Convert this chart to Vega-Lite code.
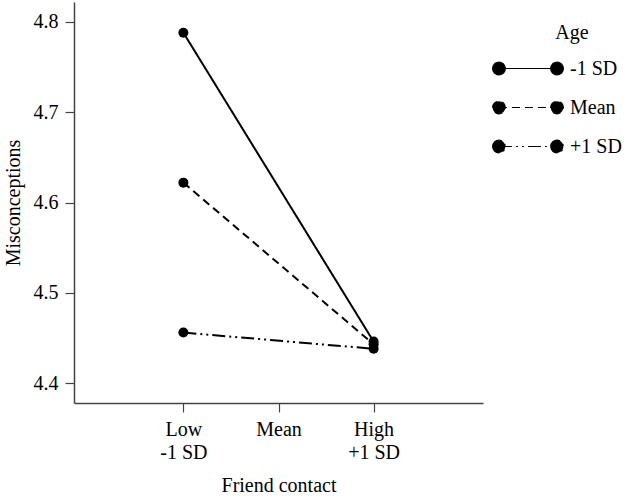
{
  "$schema": "https://vega.github.io/schema/vega-lite/v6.json",
  "autosize": {"type": "none"},
  "padding": {"left": 74, "top": 2, "right": 144, "bottom": 94},
  "width": 409,
  "height": 401,
  "background": "white",
  "config": {
    "view": {"stroke": null},
    "font": "Liberation Serif",
    "axis": {
      "labelFont": "Liberation Serif",
      "titleFont": "Liberation Serif",
      "labelFontSize": 20,
      "titleFontSize": 20,
      "titleFontWeight": "normal",
      "labelColor": "black",
      "titleColor": "black",
      "domainColor": "#444",
      "domainWidth": 1.5,
      "tickColor": "#444",
      "tickWidth": 1.2,
      "tickSize": 9,
      "grid": false
    },
    "legend": {
      "labelFont": "Liberation Serif",
      "titleFont": "Liberation Serif"
    }
  },
  "data": {
    "values": [
      {"contact": -1, "age": "-1 SD", "misconceptions": 4.788},
      {"contact": 1, "age": "-1 SD", "misconceptions": 4.446},
      {"contact": -1, "age": "Mean", "misconceptions": 4.622},
      {"contact": 1, "age": "Mean", "misconceptions": 4.443},
      {"contact": -1, "age": "+1 SD", "misconceptions": 4.456},
      {"contact": 1, "age": "+1 SD", "misconceptions": 4.438}
    ]
  },
  "encoding": {
    "x": {
      "field": "contact",
      "type": "quantitative",
      "title": "Friend contact",
      "scale": {"domain": [-2.15, 2.15], "nice": false, "zero": false},
      "axis": {
        "values": [-1, 0, 1],
        "labelExpr": "datum.value == -1 ? ['Low', '-1 SD'] : datum.value == 0 ? 'Mean' : ['High', '+1 SD']",
        "labelPadding": 7,
        "labelLineHeight": 23,
        "titlePadding": 13
      }
    },
    "y": {
      "field": "misconceptions",
      "type": "quantitative",
      "title": "Misconceptions",
      "scale": {"domain": [4.378, 4.822], "nice": false, "zero": false},
      "axis": {
        "values": [4.4, 4.5, 4.6, 4.7, 4.8],
        "format": ".1f",
        "labelPadding": 7,
        "titlePadding": 10
      }
    }
  },
  "layer": [
    {
      "mark": {"type": "line", "color": "black", "strokeWidth": 2},
      "encoding": {
        "detail": {"field": "age"},
        "strokeDash": {
          "field": "age",
          "type": "nominal",
          "title": "Age",
          "scale": {
            "domain": ["-1 SD", "Mean", "+1 SD"],
            "range": [[1, 0], [8, 5], [13, 4, 2, 4, 2, 4]]
          },
          "legend": {
            "orient": "none",
            "legendX": 418,
            "legendY": 21,
            "titleFontSize": 20,
            "titleFontWeight": "normal",
            "titleColor": "black",
            "titleAnchor": "middle",
            "titlePadding": 7,
            "labelFontSize": 20,
            "labelColor": "black",
            "labelOffset": 6,
            "clipHeight": 37,
            "rowPadding": 2,
            "symbolType": "M-1.01,0 C-1.01,-0.1 -0.93,-0.18 -0.83,-0.18 C-0.73,-0.18 -0.65,-0.1 -0.65,0 C-0.65,0.1 -0.73,0.18 -0.83,0.18 C-0.93,0.18 -1.01,0.1 -1.01,0 Z M0.65,0 C0.65,-0.1 0.73,-0.18 0.83,-0.18 C0.93,-0.18 1.01,-0.1 1.01,0 C1.01,0.1 0.93,0.18 0.83,0.18 C0.73,0.18 0.65,0.1 0.65,0 Z M-0.83,0 L0.83,0",
            "symbolSize": 4900,
            "symbolStrokeWidth": 1.2,
            "symbolStrokeColor": "black",
            "symbolFillColor": "black",
            "encode": {
              "symbols": {"update": {"fill": {"value": "black"}, "stroke": {"value": "black"}}},
              "title": {"update": {"dx": {"value": 15}}}
            }
          }
        }
      }
    },
    {
      "mark": {"type": "point", "filled": true, "color": "black", "size": 100, "opacity": 1},
      "encoding": {
        "detail": {"field": "age"}
      }
    }
  ]
}
